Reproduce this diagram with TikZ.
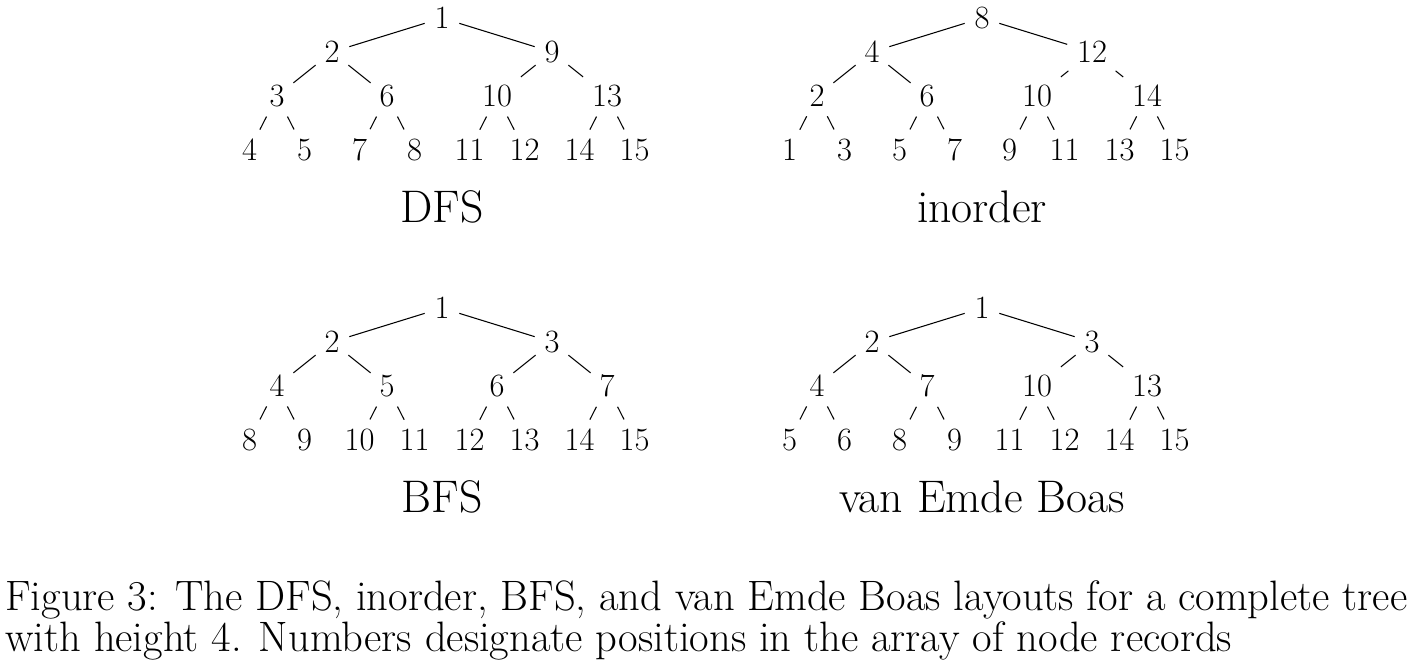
\documentclass[tikz,border=0pt]{standalone}
\usepackage{tikz}

% one tree of height 4, nodes in heap order
\newcommand{\drawtree}[5]{%
  \foreach \lev in {0,...,3} {
    \pgfmathtruncatemacro\n{2^\lev}
    \pgfmathsetmacro\ly{{18,52,96,150}[\lev]}
    \foreach \p in {1,...,\n} {
      \pgfmathtruncatemacro\i{\n+\p-1}
      \pgfmathtruncatemacro\lab{{#4}[\i-1]}
      \node[treenode] (#1-\i) at ({#2+(\p-0.5)*440/\n-220},{#3+\ly}) {\lab};
    }
  }
  \foreach \i in {2,...,15} {
    \pgfmathtruncatemacro\up{floor(\i/2)}
    \draw[treeedge] (#1-\up) -- (#1-\i);
  }
  \node[treelabel] (#1-name) at (#2,#3+207) {#5};
}

\begin{document}
\begin{tikzpicture}[x=0.02cm, y=-0.02cm,
  treenode/.style={inner sep=0.09cm, font=\fontsize{18.5}{22}\selectfont},
  treeedge/.style={line width=0.6pt, shorten >=3pt, shorten <=3pt},
  treelabel/.style={font=\fontsize{26}{30}\selectfont},
  captext/.style={anchor=base west, inner sep=0pt, font=\fontsize{24.2}{28}\selectfont}]
  \useasboundingbox (0,0) rectangle (1417,667);

  % Trees
  \drawtree{dfs}{442}{0}{1,2,9,3,6,10,13,4,5,7,8,11,12,14,15}{DFS}
  \drawtree{ino}{982}{0}{8,4,12,2,6,10,14,1,3,5,7,9,11,13,15}{inorder}
  \drawtree{bfs}{442}{290}{1,2,3,4,5,6,7,8,9,10,11,12,13,14,15}{BFS}
  \drawtree{veb}{982}{290}{1,2,3,4,7,10,13,5,6,8,9,11,12,14,15}{van Emde Boas}

  % Caption
  \node[captext] (cap1) at (5,610) {Figure 3: The DFS, inorder, BFS, and van Emde Boas layouts for a complete tree};
  \node[captext] (cap2) at (5,651) {with height 4. Numbers designate positions in the array of node records};
\end{tikzpicture}
\end{document}
